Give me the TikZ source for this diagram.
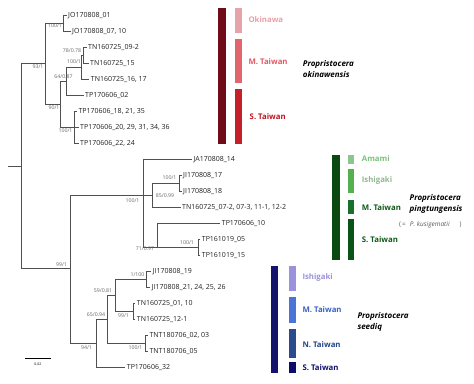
\documentclass[tikz,border=0pt]{standalone}
\usepackage{fontspec}
\setmainfont{Open Sans}
\definecolor{treegray}{HTML}{505050}
\definecolor{okDark}{HTML}{6E0C18}
\definecolor{okA}{HTML}{E6A3A9}
\definecolor{okM}{HTML}{E2646C}
\definecolor{okS}{HTML}{C42029}
\definecolor{okAt}{HTML}{E8A0A6}
\definecolor{okMt}{HTML}{E05A62}
\definecolor{okSt}{HTML}{C0141E}
\definecolor{pgDark}{HTML}{0A4A10}
\definecolor{pgAm}{HTML}{8DC68C}
\definecolor{pgIs}{HTML}{55B050}
\definecolor{pgM}{HTML}{18702A}
\definecolor{pgS}{HTML}{0B5418}
\definecolor{pgAmt}{HTML}{7DBF7D}
\definecolor{pgIst}{HTML}{90B890}
\definecolor{pgMt}{HTML}{0E5A18}
\definecolor{sdDark}{HTML}{15146C}
\definecolor{sdIs}{HTML}{9A92DC}
\definecolor{sdM}{HTML}{4A74D6}
\definecolor{sdN}{HTML}{2A4C8E}
\definecolor{sdS}{HTML}{0C0C6C}
\definecolor{sdMt}{HTML}{3A62C4}
\definecolor{sdNt}{HTML}{22448A}
\definecolor{sdSt}{HTML}{101070}
\begin{document}
\begin{tikzpicture}[x=1pt,y=-1pt,
  br/.style={draw=treegray, line width=0.6pt},
  leaf/.style={anchor=west, inner xsep=1.5pt, inner ysep=0pt, text height=5pt, text depth=0pt, font=\fontsize{7}{7}\selectfont, text=black!88},
  sup/.style={font=\fontsize{5.2}{5}\selectfont, text=black!60, inner sep=0pt},
  cat/.style={anchor=west, font=\bfseries\fontsize{7.8}{8}\selectfont, inner sep=0pt},
  spc/.style={anchor=west, font=\bfseries\itshape\fontsize{8}{10.7}\selectfont, inner sep=0pt, align=left},
]
\useasboundingbox (0,0) rectangle (474,383);

% internal nodes
\coordinate (S) at (8,166);
\coordinate (R) at (21,166);
\coordinate (O) at (45,63.5);
\coordinate (JO) at (63,23);
\coordinate (N90) at (60.7,104);
\coordinate (N64) at (66.7,81);
\coordinate (TN100) at (81.7,67);
\coordinate (N78) at (83.3,55);
\coordinate (T18) at (74,127);
\coordinate (P99) at (70.7,268.5);
\coordinate (P100) at (143,195);
\coordinate (N85) at (152,195);
\coordinate (JI) at (179,183);
\coordinate (N71) at (157.3,247);
\coordinate (TPn) at (198.3,247);
\coordinate (N94) at (96.7,343);
\coordinate (N65) at (107.7,319);
\coordinate (N59) at (115,295);
\coordinate (J19) at (146,279);
\coordinate (TN99) at (133.3,311);
\coordinate (TNT) at (145,343);

% leaves
\node[leaf] (l1) at (66.5,15) {JO170808\_01};
\node[leaf] (l2) at (70.5,31) {JO170808\_07, 10};
\node[leaf] (l3) at (86.5,47) {TN160725\_09-2};
\node[leaf] (l4) at (88.5,63) {TN160725\_15};
\node[leaf] (l5) at (89.2,79) {TN160725\_16, 17};
\node[leaf] (l6) at (83.5,95) {TP170606\_02};
\node[leaf] (l7) at (76.8,111) {TP170606\_18, 21, 35};
\node[leaf] (l8) at (78.5,127) {TP170606\_20, 29, 31, 34, 36};
\node[leaf] (l9) at (78.5,143) {TP170606\_22, 24};
\node[leaf] (l10) at (191.8,159) {JA170808\_14};
\node[leaf] (l11) at (181.5,175) {JI170808\_17};
\node[leaf] (l12) at (181.5,191) {JI170808\_18};
\node[leaf] (l13) at (180.5,207) {TN160725\_07-2, 07-3, 11-1, 12-2};
\node[leaf] (l14) at (220.2,223) {TP170606\_10};
\node[leaf] (l15) at (200.2,239) {TP161019\_05};
\node[leaf] (l16) at (200.2,255) {TP161019\_15};
\node[leaf] (l17) at (151.2,271) {JI170808\_19};
\node[leaf] (l18) at (150.2,287) {JI170808\_21, 24, 25, 26};
\node[leaf] (l19) at (135.2,303) {TN160725\_01, 10};
\node[leaf] (l20) at (135.2,319) {TN160725\_12-1};
\node[leaf] (l21) at (147.8,335) {TNT180706\_02, 03};
\node[leaf] (l22) at (147.8,351) {TNT180706\_05};
\node[leaf] (l23) at (125.2,367) {TP170606\_32};

% branches
\draw[br] (S) -- (R);
\draw[br] (R) |- (O);
\draw[br] (R) |- (P99);
\draw[br] (O) |- (JO);
\draw[br] (O) |- (N90);
\draw[br] (JO) |- (l1.west);
\draw[br] (JO) |- (l2.west);
\draw[br] (N90) |- (N64);
\draw[br] (N90) |- (T18);
\draw[br] (N64) |- (TN100);
\draw[br] (N64) |- (l6.west);
\draw[br] (TN100) |- (N78);
\draw[br] (TN100) |- (l5.west);
\draw[br] (N78) |- (l3.west);
\draw[br] (N78) |- (l4.west);
\draw[br] (T18) |- (l7.west);
\draw[br] (T18) |- (l8.west);
\draw[br] (T18) |- (l9.west);
\draw[br] (P99) |- (P100);
\draw[br] (P99) |- (N94);
\draw[br] (P100) |- (l10.west);
\draw[br] (P100) -- (N85);
\draw[br] (P100) |- (N71);
\draw[br] (N85) |- (JI);
\draw[br] (N85) |- (l13.west);
\draw[br] (JI) |- (l11.west);
\draw[br] (JI) |- (l12.west);
\draw[br] (N71) |- (l14.west);
\draw[br] (N71) -- (TPn);
\draw[br] (TPn) |- (l15.west);
\draw[br] (TPn) |- (l16.west);
\draw[br] (N94) |- (N65);
\draw[br] (N94) |- (l23.west);
\draw[br] (N65) |- (N59);
\draw[br] (N65) |- (TNT);
\draw[br] (N59) |- (J19);
\draw[br] (N59) |- (TN99);
\draw[br] (J19) |- (l17.west);
\draw[br] (J19) |- (l18.west);
\draw[br] (TN99) |- (l19.west);
\draw[br] (TN99) |- (l20.west);
\draw[br] (TNT) |- (l21.west);
\draw[br] (TNT) |- (l22.west);

% support values
\node[sup] (s1) at (38,67) {93/1};
\node[sup] (s2) at (55,25.5) {100/1};
\node[sup] (s3) at (72,50.5) {78/0.78};
\node[sup] (s4) at (74,62) {100/1};
\node[sup] (s5) at (63.5,77) {64/0.87};
\node[sup] (s6) at (54,108) {90/1};
\node[sup] (s7) at (65.5,131) {100/1};
\node[sup] (s8) at (132.5,200.7) {100/1};
\node[sup] (s9) at (169.5,178) {100/1};
\node[sup] (s10) at (165,195.5) {85/0.99};
\node[sup] (s11) at (145,249) {71/0.97};
\node[sup] (s12) at (187,242.5) {100/1};
\node[sup] (s13) at (61.5,265) {99/1};
\node[sup] (s14) at (86.5,347.7) {94/1};
\node[sup] (s15) at (96,314.5) {65/0.94};
\node[sup] (s16) at (103,291) {59/0.81};
\node[sup] (s17) at (137.5,274.5) {1/100};
\node[sup] (s18) at (123.5,315.5) {99/1};
\node[sup] (s19) at (135.5,347.7) {100/1};

% scale bar
\coordinate (sb1) at (25,358.3);
\coordinate (sb2) at (50.7,358.3);
\draw[line width=0.9pt] (sb1) -- (sb2);
\node[font=\fontsize{3.5}{4}\selectfont, inner sep=0pt] (sbl) at (37.8,364.5) {0.02};

% okinawensis bars
\fill[okDark] (218.3,8.3) rectangle (225.7,144);
\fill[okA] (235,8.3) rectangle (242.3,33.3);
\fill[okM] (235,39.3) rectangle (242.3,83.3);
\fill[okS] (235,89.3) rectangle (242.3,144);
\node[cat,text=okAt] (cOk) at (248.3,19.3) {Okinawa};
\node[cat,text=okMt] (cOM) at (248.3,62) {M. Taiwan};
\node[cat,text=okSt] (cOS) at (249.5,116.7) {S. Taiwan};
\node[spc] (sOk) at (302.7,68.7) {Propristocera\\okinawensis};

% pingtungensis bars
\fill[pgDark] (332.3,155) rectangle (340,260);
\fill[pgAm] (348.3,155) rectangle (354.3,164);
\fill[pgIs] (348.3,168.7) rectangle (354.3,192.7);
\fill[pgM] (348.3,200) rectangle (354.3,214);
\fill[pgS] (348.3,218.7) rectangle (354.3,260);
\node[cat,text=pgAmt] (cPA) at (361.7,159) {Amami};
\node[cat,text=pgIst] (cPI) at (361.7,180.7) {Ishigaki};
\node[cat,text=pgMt] (cPM) at (361.7,207.7) {M. Taiwan};
\node[cat,text=pgMt] (cPS) at (361.7,240) {S. Taiwan};
\node[spc] (sPg) at (409.5,203.8) {Propristocera\\pingtungensis};
\node[anchor=west, inner sep=0pt, text=black!65, font=\fontsize{6.5}{7}\selectfont] (kus) at (399,225) {(\,=\hspace{4pt}\textit{P. kusigematii}\hspace{10pt})};

% seediq bars
\fill[sdDark] (270.7,266) rectangle (277.7,372.7);
\fill[sdIs] (289,266) rectangle (295.7,291);
\fill[sdM] (289,296.7) rectangle (295.7,323.3);
\fill[sdN] (289,329) rectangle (295.7,358.3);
\fill[sdS] (289,362.3) rectangle (295.7,372.7);
\node[cat,text=sdIs] (cSI) at (302.3,277.7) {Ishigaki};
\node[cat,text=sdMt] (cSM) at (302.3,309.3) {M. Taiwan};
\node[cat,text=sdNt] (cSN) at (302.3,344.3) {N. Taiwan};
\node[cat,text=sdSt] (cSS) at (302.3,367.3) {S. Taiwan};
\node[spc] (sSd) at (357.3,322.2) {Propristocera\\seediq};
\end{tikzpicture}
\end{document}
